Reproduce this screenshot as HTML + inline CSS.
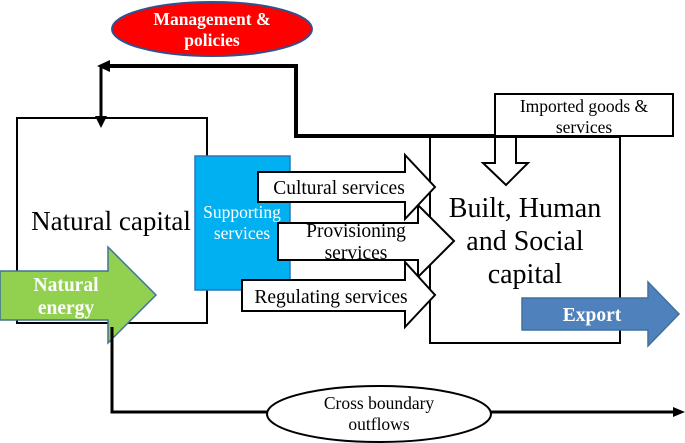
<!DOCTYPE html>
<html><head><meta charset="utf-8"><style>body{margin:0;background:#fff}svg{display:block}text{font-family:"Liberation Serif",serif}</style></head><body>
<svg width="685" height="443" viewBox="0 0 685 443">
<rect x="17" y="118" width="190" height="205" fill="#fff" stroke="#000" stroke-width="2"/>
<rect x="430" y="137" width="190" height="206" fill="#fff" stroke="#000" stroke-width="2"/>
<ellipse cx="212" cy="29" rx="100" ry="27" fill="#f00" stroke="#2f528f" stroke-width="2"/>
<text x="212" y="25" font-size="17.5" font-weight="bold" fill="#fff" text-anchor="middle">Management &amp;</text>
<text x="212" y="46" font-size="17.5" font-weight="bold" fill="#fff" text-anchor="middle">policies</text>
<polyline points="496,136 296,136 296,66 108,66" fill="none" stroke="#000" stroke-width="4"/>
<polygon points="97,66 110,60 110,72" fill="#000"/>
<line x1="101" y1="66" x2="101" y2="118" stroke="#000" stroke-width="3"/>
<polygon points="101,128 95,116 107,116" fill="#000"/>
<rect x="495" y="94" width="178" height="42" fill="#fff" stroke="#000" stroke-width="2"/>
<text x="584" y="112" font-size="17.5" text-anchor="middle">Imported goods &amp;</text>
<text x="584" y="133" font-size="17.5" text-anchor="middle">services</text>
<polygon points="495,137 516,137 516,163 528,163 506,185 483,163 495,163" fill="#fff" stroke="#000" stroke-width="2"/>
<rect x="195" y="156" width="95" height="134" fill="#00b0f0" stroke="#2e75b6" stroke-width="1.5"/>
<text x="242" y="218" font-size="17.5" fill="#fff" text-anchor="middle">Supporting</text>
<text x="242" y="239" font-size="17.5" fill="#fff" text-anchor="middle">services</text>
<text x="111" y="230" font-size="27" text-anchor="middle">Natural capital</text>
<polygon points="278,223 418,223 418,205 454,241 418,277 418,260 278,260" fill="#fff" stroke="#000" stroke-width="2"/>
<text x="356" y="237" font-size="19.5" text-anchor="middle">Provisioning</text>
<text x="356" y="259" font-size="19.5" text-anchor="middle">services</text>
<polygon points="258,172 405,172 405,155 435,187 405,219 405,202 258,202" fill="#fff" stroke="#000" stroke-width="2"/>
<text x="339" y="194" font-size="19.5" text-anchor="middle">Cultural services</text>
<polygon points="242,280 405,280 405,262 435,295 405,327 405,311 242,311" fill="#fff" stroke="#000" stroke-width="2"/>
<text x="331" y="303" font-size="19.5" text-anchor="middle">Regulating services</text>
<text x="525" y="217" font-size="28" text-anchor="middle">Built, Human</text>
<text x="525" y="250" font-size="28" text-anchor="middle">and Social</text>
<text x="525" y="283" font-size="28" text-anchor="middle">capital</text>
<polygon points="0,271 108,271 108,247 156,295 108,343 108,320 0,320" fill="#92d050" stroke="#41719c" stroke-width="1.5"/>
<text x="66" y="291" font-size="19.5" font-weight="bold" fill="#fff" text-anchor="middle">Natural</text>
<text x="66" y="314" font-size="19.5" font-weight="bold" fill="#fff" text-anchor="middle">energy</text>
<polygon points="522,298 648,298 648,282 679,314 648,346 648,330 522,330" fill="#4f81bd" stroke="#41719c" stroke-width="1.5"/>
<text x="592" y="321" font-size="19.5" font-weight="bold" fill="#fff" text-anchor="middle">Export</text>
<polyline points="112,327 112,412 676,412" fill="none" stroke="#000" stroke-width="3"/>
<polygon points="685,412 673,407 673,417" fill="#000"/>
<ellipse cx="379" cy="414" rx="112" ry="28" fill="#fff" stroke="#000" stroke-width="2"/>
<text x="379" y="409" font-size="17.5" text-anchor="middle">Cross boundary</text>
<text x="379" y="430" font-size="17.5" text-anchor="middle">outflows</text>
</svg>
</body></html>
